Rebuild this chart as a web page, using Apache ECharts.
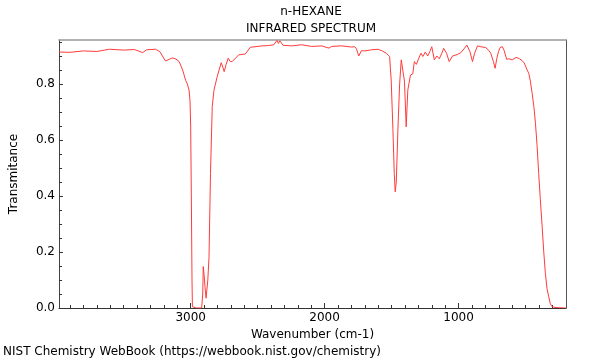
<!DOCTYPE html>
<html><head><meta charset="utf-8">
<script src="https://cdn.jsdelivr.net/npm/echarts@6/dist/echarts.min.js"></script>
<style>html,body{margin:0;padding:0;background:#fff}#c{width:600px;height:360px}</style>
</head><body><div id="c"></div>
<script>
const wavenumbers = [3983,3900,3800,3700,3606,3500,3420,3358,3330,3262,3230,3188,3160,3136,3110,3086,3060,3037,3025,3012,3005,3000,2995,2990,2987,2960,2940,2918,2910,2906,2900,2893,2885,2881,2872,2863,2852,2839,2826,2802,2772,2760,2750,2735,2720,2705,2690,2641,2592,2555,2468,2420,2380,2356,2345,2334,2310,2297,2245,2171,2097,2022,1968,1948,1874,1800,1775,1762,1745,1725,1700,1650,1601,1570,1540,1515,1503,1490,1480,1473,1465,1453,1440,1428,1420,1404,1391,1379,1359,1342,1330,1315,1304,1290,1280,1267,1248,1230,1215,1200,1181,1163,1144,1125,1111,1090,1070,1045,1010,983,960,938,915,896,880,859,834,797,775,760,740,727,715,701,690,673,660,641,625,612,600,587,570,560,545,525,510,500,488,476,464,451,438,426,414,402,390,376,364,352,340,327,315,302,280,250,200];
const transmittance = [0.914,0.913,0.918,0.916,0.924,0.921,0.923,0.912,0.922,0.924,0.915,0.882,0.888,0.893,0.889,0.880,0.850,0.812,0.800,0.778,0.740,0.650,0.400,0.100,0.005,0.000,0.000,0.000,0.050,0.148,0.120,0.076,0.035,0.035,0.100,0.183,0.480,0.719,0.778,0.826,0.876,0.860,0.844,0.870,0.892,0.880,0.880,0.904,0.907,0.931,0.936,0.937,0.940,0.955,0.945,0.954,0.938,0.935,0.936,0.940,0.934,0.936,0.928,0.934,0.936,0.932,0.933,0.925,0.900,0.919,0.918,0.922,0.924,0.918,0.910,0.898,0.814,0.636,0.480,0.415,0.450,0.636,0.800,0.886,0.880,0.810,0.647,0.778,0.832,0.836,0.880,0.870,0.876,0.900,0.910,0.898,0.914,0.900,0.915,0.933,0.886,0.900,0.890,0.910,0.927,0.910,0.880,0.900,0.905,0.912,0.925,0.939,0.915,0.880,0.910,0.936,0.933,0.930,0.920,0.910,0.880,0.856,0.890,0.917,0.930,0.933,0.920,0.888,0.890,0.893,0.886,0.888,0.895,0.900,0.890,0.883,0.875,0.868,0.850,0.838,0.810,0.767,0.720,0.660,0.580,0.481,0.390,0.290,0.200,0.124,0.070,0.040,0.015,0.005,0.002,0.001,0.000];
const xMajorTicks = [1000,2000,3000];
const xMinorTicks = [300,400,500,600,700,800,900,1100,1200,1300,1400,1500,1600,1700,1800,1900,2100,2200,2300,2400,2500,2600,2700,2800,2900,3100,3200,3300,3400,3500,3600,3700,3800,3900];
const yMajorTicks = [0,0.2,0.4,0.6,0.8];
const yMinorTicks = [0.05,0.1,0.15,0.25,0.3,0.35,0.45,0.5,0.55,0.65,0.7,0.75,0.85,0.9,0.95];
const titleLines = ['n-HEXANE','INFRARED SPECTRUM'];

const X_MIN = 198, X_MAX = 3983, Y_MIN = 0, Y_MAX = 0.957;
const FONT = 'DejaVu Sans';
const chart = echarts.init(document.getElementById('c'), null, {renderer:'canvas'});
const data = wavenumbers.map((w,i)=>[w, transmittance[i]]);
const baseX = {type:'value', inverse:true, min:X_MIN, max:X_MAX, gridIndex:0, splitLine:{show:false}};
const baseY = {type:'value', min:Y_MIN, max:Y_MAX, gridIndex:0, splitLine:{show:false}};
chart.setOption({
  animation:false,
  textStyle:{fontFamily:FONT},
  grid:{left:56, right:34, top:40, bottom:52, show:false},
  xAxis:[
    Object.assign({}, baseX, {position:'bottom',
      name:'Wavenumber (cm-1)', nameLocation:'middle', nameGap:18,
      nameTextStyle:{fontFamily:FONT, fontSize:12, color:'#000'},
      axisLine:{show:true, onZero:false, lineStyle:{color:'#333', width:1}},
      axisTick:{show:true, inside:true, length:5, customValues:xMajorTicks, lineStyle:{color:'#333'}},
      axisLabel:{show:true, customValues:xMajorTicks, margin:4, fontFamily:FONT, fontSize:12, color:'#000',
        formatter:v=>String(Math.round(v))}}),
    Object.assign({}, baseX, {position:'bottom',
      axisLine:{show:false, onZero:false},
      axisTick:{show:true, inside:true, length:3, customValues:xMinorTicks, lineStyle:{color:'#333'}},
      axisLabel:{show:false}}),
    Object.assign({}, baseX, {position:'top',
      axisLine:{show:true, onZero:false, lineStyle:{color:'#999', width:1.5}},
      axisTick:{show:false}, axisLabel:{show:false}})
  ],
  yAxis:[
    Object.assign({}, baseY, {position:'left',
      name:'Transmitance', nameLocation:'middle', nameGap:39, nameRotate:90,
      nameTextStyle:{fontFamily:FONT, fontSize:12, color:'#000'},
      axisLine:{show:true, onZero:false, lineStyle:{color:'#444', width:1}},
      axisTick:{show:true, inside:true, length:4, customValues:yMajorTicks, lineStyle:{color:'#333'}},
      axisLabel:{show:true, customValues:yMajorTicks, margin:4, fontFamily:FONT, fontSize:12, color:'#000',
        formatter:v=>v.toFixed(1)}}),
    Object.assign({}, baseY, {position:'left',
      axisLine:{show:false, onZero:false},
      axisTick:{show:true, inside:true, length:3, customValues:yMinorTicks, lineStyle:{color:'#333'}},
      axisLabel:{show:false}}),
    Object.assign({}, baseY, {position:'right',
      axisLine:{show:true, onZero:false, lineStyle:{color:'#555', width:1}},
      axisTick:{show:false}, axisLabel:{show:false}})
  ],
  graphic:[
    {type:'text', x:311, y:6, style:{text:titleLines[0], fontFamily:FONT, fontSize:12, fill:'#000', align:'center'}},
    {type:'text', x:311, y:23, style:{text:titleLines[1], fontFamily:FONT, fontSize:12, fill:'#000', align:'center'}},
    {type:'text', x:3, y:346, style:{text:'NIST Chemistry WebBook (https://webbook.nist.gov/chemistry)', fontFamily:FONT, fontSize:12, fill:'#000', align:'left'}}
  ],
  series:[{
    type:'line', xAxisIndex:0, yAxisIndex:0, data:data, showSymbol:false, smooth:false,
    lineStyle:{color:'#ff3b3b', width:1}, clip:true
  }]
});
</script></body></html>
